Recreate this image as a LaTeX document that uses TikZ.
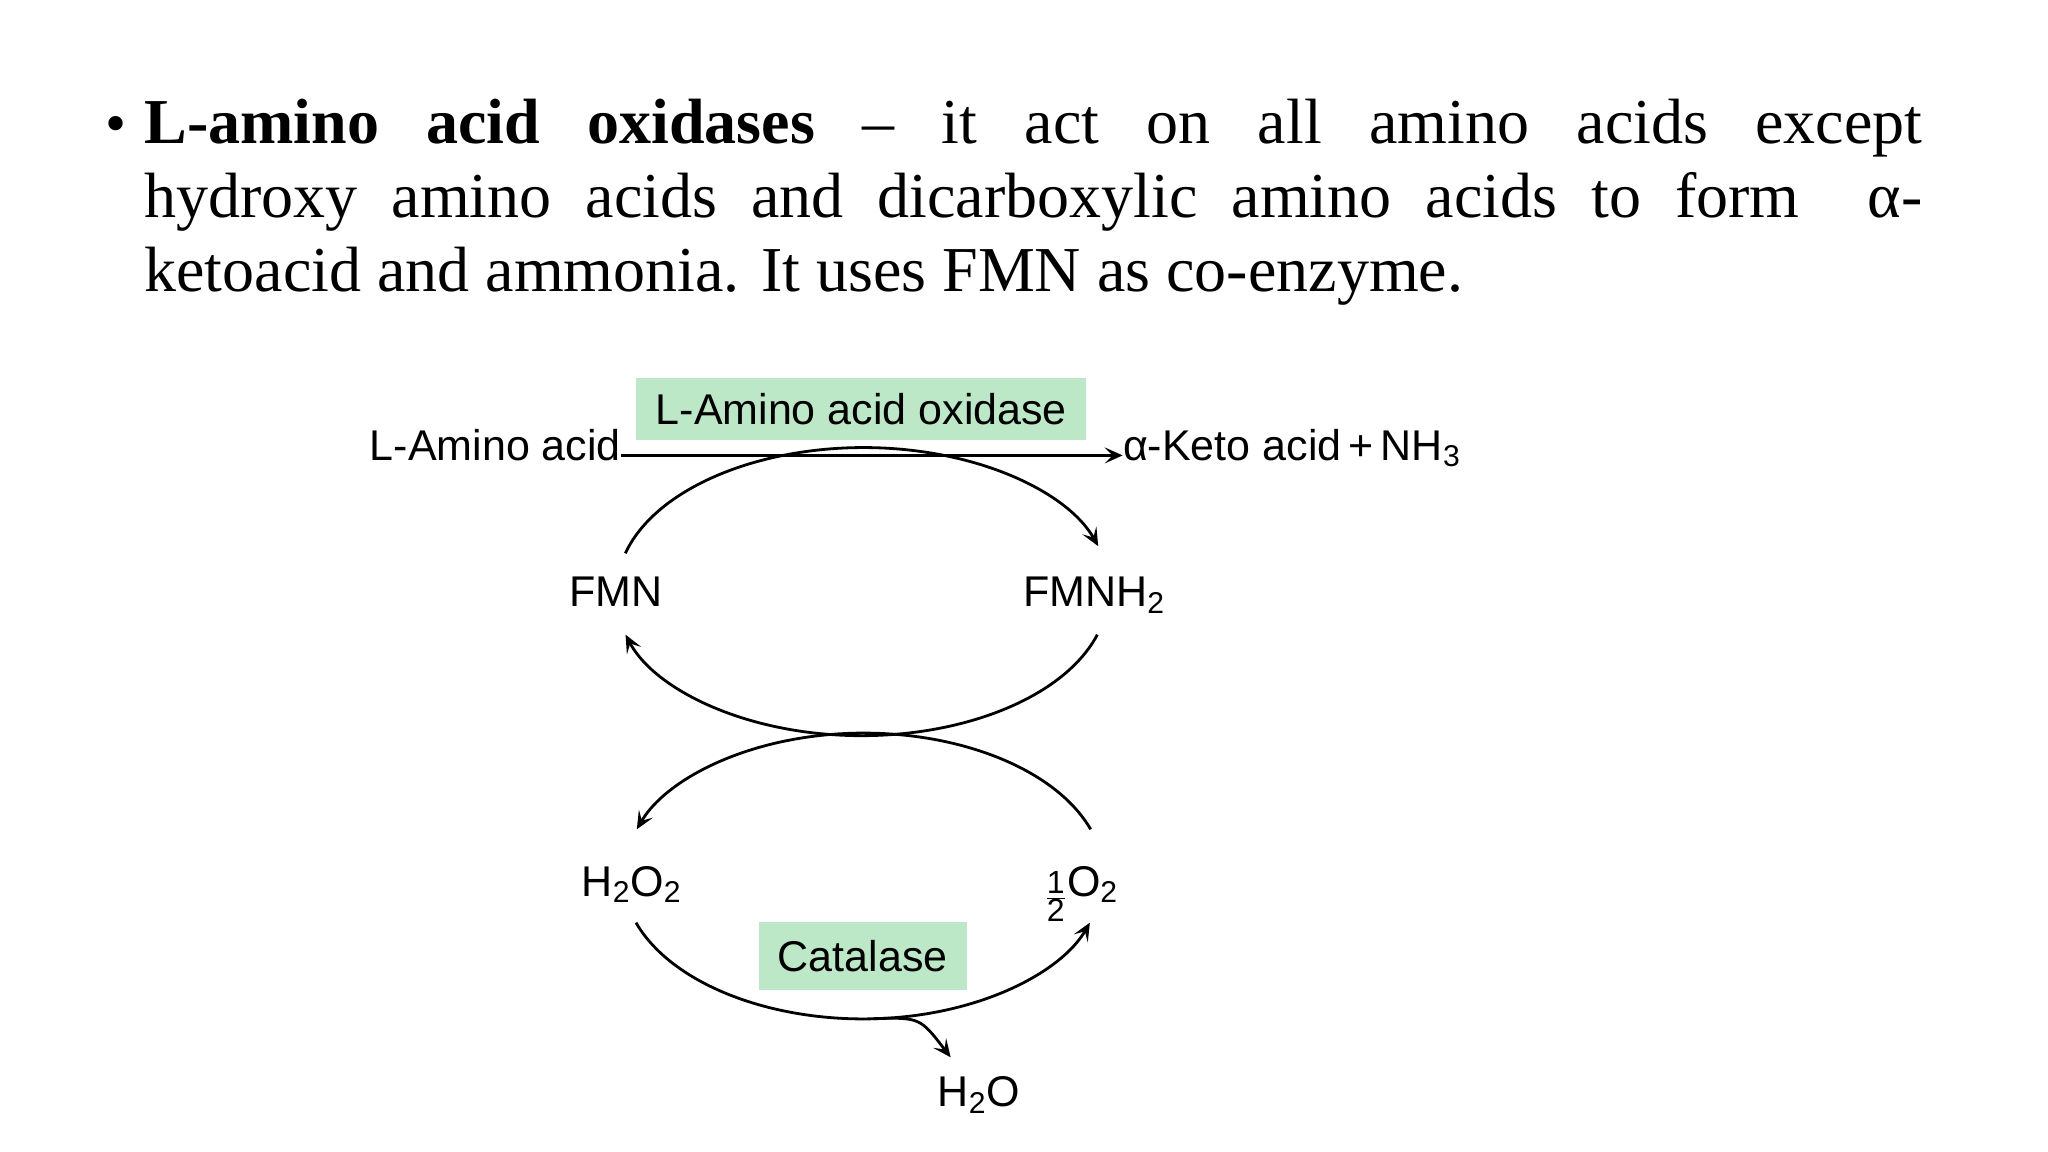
\documentclass[tikz,border=0pt]{standalone}
\usepackage{fontspec}
\setmainfont{Liberation Serif}
\newfontfamily\dsans{Liberation Sans}
\usetikzlibrary{arrows.meta}
\definecolor{mint}{RGB}{188,232,200}
\begin{document}
\begin{tikzpicture}[x=0.66667pt,y=-0.66667pt,
  lbl/.style={font=\dsans\fontsize{21.5}{24}\selectfont,inner sep=0pt},
  box/.style={lbl,fill=mint},
  cyc/.style={line width=1.4pt,-{Stealth[length=9pt,width=8pt,inset=4pt]}}]
\useasboundingbox (0,0) rectangle (1536,864);
% text
\node[anchor=base,font=\fontsize{30}{37}\selectfont,inner sep=0pt] (bul) at (87,108) {•};
\node[anchor=north west,inner sep=0pt,text width=889pt,align=justify,
  font=\fontsize{32}{37}\selectfont] (txt) at (108,74)
  {\textbf{L-amino acid oxidases} – it act on all amino acids except\linebreak
   hydroxy amino acids and dicarboxylic amino acids to form~~α-\linebreak
   ketoacid and ammonia. It uses FMN as co-enzyme.};
% diagram
\node[box,minimum width=225pt,minimum height=31pt] (lao) at (646,307) {L-Amino acid oxidase};
\node[lbl,anchor=base east] (la) at (466,345) {L-Amino acid};
\node[lbl,anchor=base west] (kp) at (842,345) {α-Keto acid\,+\,NH\textsubscript{3}};
\draw[cyc] (la.mid east) -- (kp.mid west);
\node[lbl,anchor=base] (fmn) at (462,455) {FMN};
\node[lbl,anchor=base west] (fmnh) at (767,455) {FMNH\textsubscript{2}};
\node[lbl,anchor=base west] (hoo) at (436,672) {H\textsubscript{2}O\textsubscript{2}};
\node[lbl,anchor=base west] (oo) at (783,672) {\raisebox{-0.25em}{\fontsize{16}{16}\selectfont$\frac{\mbox{\dsans 1}}{\mbox{\dsans 2}}$}O\textsubscript{2}};
\node[box,minimum width=104pt,minimum height=34pt] (cat) at (647,717) {Catalase};
\node[lbl,anchor=base west] (w) at (703,830) {H\textsubscript{2}O};
% upper cycle
\coordinate (u1) at (469,415);
\draw[cyc] (u1) arc[start angle=195,end angle=342,x radius=185,y radius=107];
\coordinate (u2) at (823,476);
\draw[cyc] (u2) arc[start angle=17,end angle=163,x radius=185,y radius=107];
% lower cycle
\coordinate (l1) at (818,622);
\draw[cyc] (l1) arc[start angle=341,end angle=199,x radius=180,y radius=107];
\coordinate (l2) at (477,692);
\draw[cyc] (l2) arc[start angle=161,end angle=19,x radius=180,y radius=107];
\coordinate (b) at (655,764);
\draw[cyc] (b) .. controls (690,763) .. (713,793);
\end{tikzpicture}
\end{document}
